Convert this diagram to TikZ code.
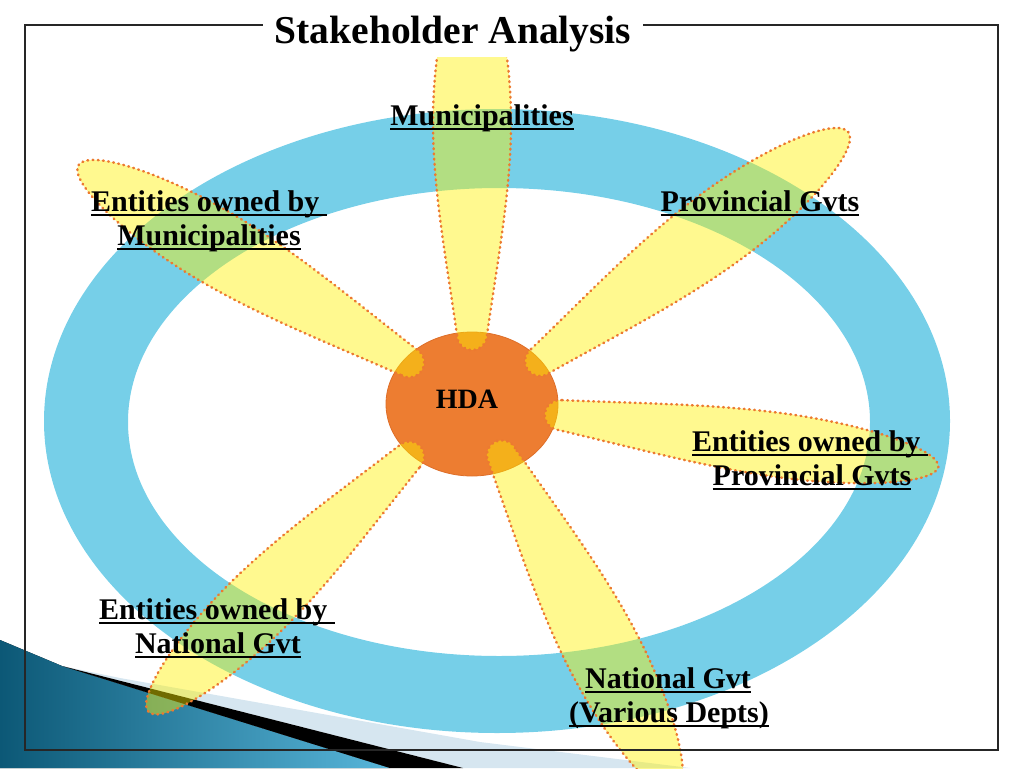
\documentclass[tikz,border=0pt]{standalone}
\usepackage{fontspec}
\setmainfont{Liberation Serif}
\usetikzlibrary{shapes.geometric}

\definecolor{ringblue}{RGB}{118,207,232}
\definecolor{hdaorange}{RGB}{237,125,49}
\definecolor{hdaedge}{RGB}{222,110,40}
\definecolor{petaledge}{RGB}{236,122,48}
\definecolor{tealdark}{RGB}{12,88,118}
\definecolor{teallight}{RGB}{88,182,218}
\definecolor{paleband}{RGB}{214,230,240}

\newcommand{\ulabel}[1]{\setbox0=\hbox{#1}\rlap{\rule[-5pt]{\wd0}{2pt}}\box0}

\begin{document}
\begin{tikzpicture}[x=1pt, y=-1pt,
    petal/.style={fill=yellow, fill opacity=0.44, draw=petaledge, line width=2.5pt,
                  line cap=round, dash pattern=on 0.8pt off 4.4pt},
    stake/.style={font=\fontsize{30}{34}\selectfont\bfseries, inner sep=0pt, anchor=base},
    frame/.style={draw=black!85, line width=1.1pt}]

\useasboundingbox (0,0) rectangle (1024,768);
\clip (0,0) rectangle (1024,768);

% Corner decoration
\fill[left color=tealdark, right color=teallight] (0,640) -- (62,666) -- (390,768) -- (0,768) -- cycle;
\fill[paleband] (62,666) -- (120,678) -- (255,702) -- (480,742) -- (690,768) -- (463,768) -- cycle;
\fill[black] (62,666) -- (463,768) -- (390,768) -- cycle;

% Ring
\fill[ringblue, even odd rule] (497,421) ellipse [x radius=453, y radius=312]
                               (499,422) ellipse [x radius=371, y radius=234];

% Centre
\node[ellipse, fill=hdaorange, draw=hdaedge, line width=0.8pt, inner sep=0pt,
      minimum width=172pt, minimum height=144pt] (hda) at (472,404) {};

% Petals
\begin{scope}
    \clip (0,58) rectangle (1024,768);
    \foreach \x/\y/\ang/\plen/\pwid in {472/350/90/380/39, 422/370/149.2/400/37,
                                        528/370/36.6/399/38, 545/413/-7.8/397/32,
                                        495/442/-62.7/395/38, 420/446/-135.6/380/35} {
        \begin{scope}[shift={(\x,\y)}, rotate=\ang]
            \draw[petal] (15,-15) .. controls (6.7,-15) and (0,-8.3) .. (0,0)
                .. controls (0,8.3) and (6.7,15) .. (15,15)
                .. controls ({0.24*\plen},{15+0.45*(\pwid-15)}) and ({0.42*\plen},\pwid) .. ({0.6*\plen},\pwid)
                .. controls ({0.82*\plen},\pwid) and (\plen,{0.5*\pwid}) .. (\plen,0)
                .. controls (\plen,{-0.5*\pwid}) and ({0.82*\plen},-\pwid) .. ({0.6*\plen},-\pwid)
                .. controls ({0.42*\plen},-\pwid) and ({0.24*\plen},{-15-0.45*(\pwid-15)}) .. (15,-15) -- cycle;
        \end{scope}
    }
\end{scope}

% Frame and title
\draw[frame] (25,25) rectangle (998,750);
\node[font=\fontsize{39.5}{44}\selectfont\bfseries, fill=white, anchor=base,
      inner xsep=12pt, inner ysep=3pt] (title) at (453,44) {Stakeholder Analysis};

% Labels
\node[stake, font=\fontsize{28}{32}\selectfont\bfseries] (hdaText) at (467,408) {HDA};
\node[stake] (mun) at (482,125) {\ulabel{Municipalities}};
\node[stake] (emunA) at (209,211) {\ulabel{Entities owned by\ }};
\node[stake] (emunB) at (209,245) {\ulabel{Municipalities}};
\node[stake] (prov) at (760,211) {\ulabel{Provincial Gvts}};
\node[stake] (eprovA) at (810,451) {\ulabel{Entities owned by\ }};
\node[stake] (eprovB) at (812,485) {\ulabel{Provincial Gvts}};
\node[stake] (enatA) at (217,619) {\ulabel{Entities owned by\ }};
\node[stake] (enatB) at (218,653) {\ulabel{National Gvt}};
\node[stake] (natA) at (668,688) {\ulabel{National Gvt}};
\node[stake] (natB) at (669,722) {\ulabel{(Various Depts)}};

\end{tikzpicture}
\end{document}
